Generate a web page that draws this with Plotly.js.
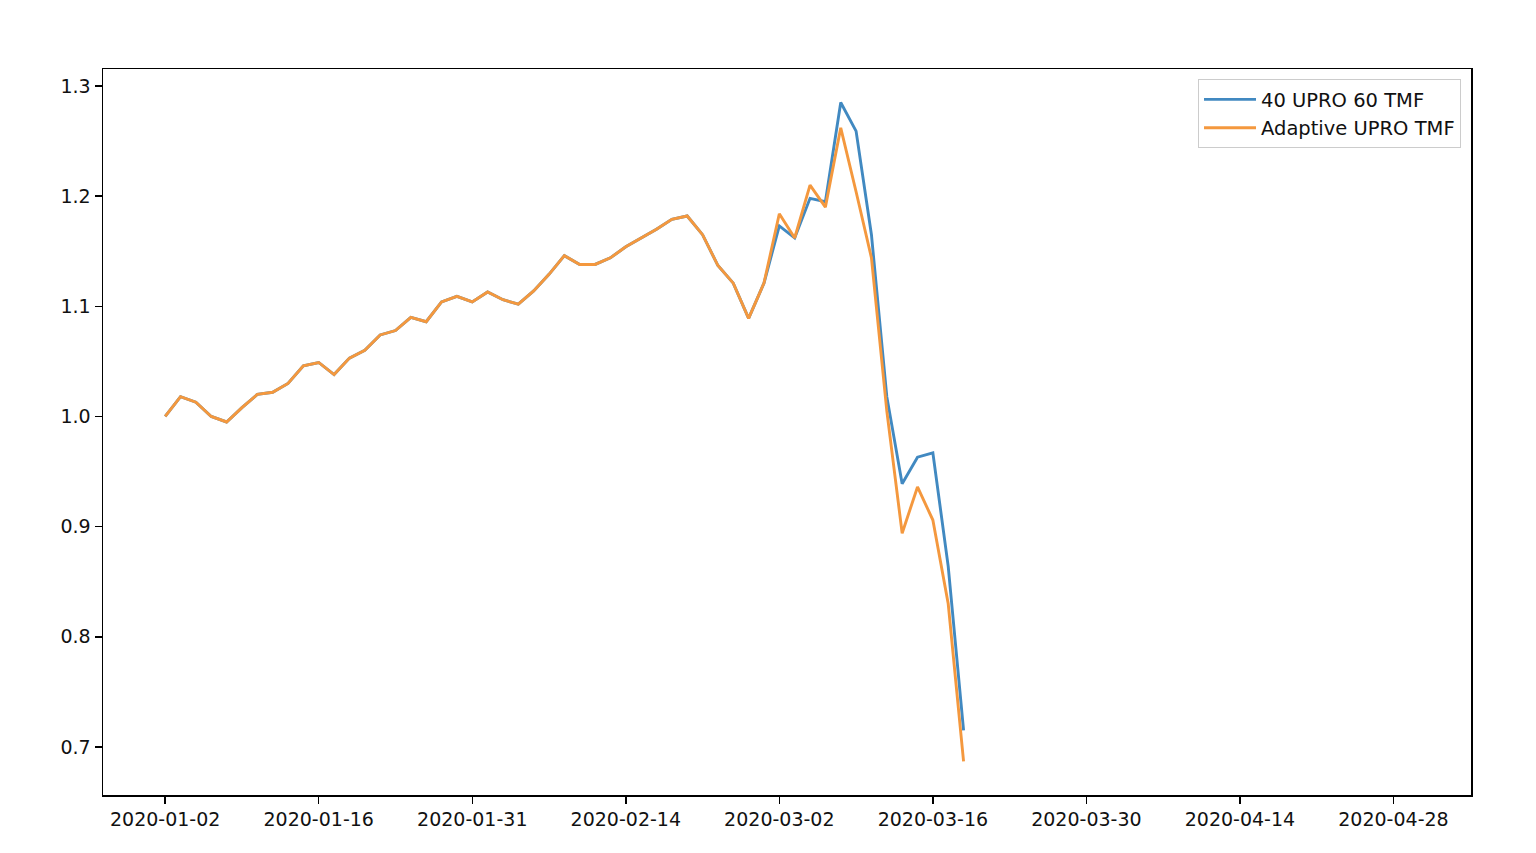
<!DOCTYPE html>
<html>
<head>
<meta charset="utf-8">
<script src="https://cdn.plot.ly/plotly-3.0.1.min.js"></script>
<style>
  html, body { margin: 0; padding: 0; background: #fff; }
  #chart { width: 1536px; height: 853px; }
</style>
</head>
<body>
<div id="chart"></div>
<script>
// trading days, 2020-01-02 .. 2020-04-29
var tradingDates = [
  '2020-01-02', '2020-01-03', '2020-01-06', '2020-01-07', '2020-01-08', '2020-01-09', '2020-01-10',
  '2020-01-13', '2020-01-14', '2020-01-15', '2020-01-16', '2020-01-17', '2020-01-21', '2020-01-22',
  '2020-01-23', '2020-01-24', '2020-01-27', '2020-01-28', '2020-01-29', '2020-01-30', '2020-01-31',
  '2020-02-03', '2020-02-04', '2020-02-05', '2020-02-06', '2020-02-07', '2020-02-10', '2020-02-11',
  '2020-02-12', '2020-02-13', '2020-02-14', '2020-02-18', '2020-02-19', '2020-02-20', '2020-02-21',
  '2020-02-24', '2020-02-25', '2020-02-26', '2020-02-27', '2020-02-28', '2020-03-02', '2020-03-03',
  '2020-03-04', '2020-03-05', '2020-03-06', '2020-03-09', '2020-03-10', '2020-03-11', '2020-03-12',
  '2020-03-13', '2020-03-16', '2020-03-17', '2020-03-18', '2020-03-19', '2020-03-20', '2020-03-23',
  '2020-03-24', '2020-03-25', '2020-03-26', '2020-03-27', '2020-03-30', '2020-03-31', '2020-04-01',
  '2020-04-02', '2020-04-03', '2020-04-06', '2020-04-07', '2020-04-08', '2020-04-09', '2020-04-13',
  '2020-04-14', '2020-04-15', '2020-04-16', '2020-04-17', '2020-04-20', '2020-04-21', '2020-04-22',
  '2020-04-23', '2020-04-24', '2020-04-27', '2020-04-28', '2020-04-29'
];

var fixedMix = [
  1.000, 1.018, 1.013, 1.000, 0.995, 1.008, 1.020, 1.022, 1.030, 1.046,
  1.049, 1.038, 1.053, 1.060, 1.074, 1.078, 1.090, 1.086, 1.104, 1.109,
  1.104, 1.113, 1.106, 1.102, 1.114, 1.129, 1.146, 1.138, 1.138, 1.144,
  1.154, 1.162, 1.170, 1.179, 1.182, 1.165, 1.137, 1.121, 1.089, 1.121,
  1.173, 1.162, 1.198, 1.195, 1.285, 1.259, 1.165, 1.018, 0.939, 0.963,
  0.967, 0.864, 0.715
];

var adaptiveMix = [
  1.000, 1.018, 1.013, 1.000, 0.995, 1.008, 1.020, 1.022, 1.030, 1.046,
  1.049, 1.038, 1.053, 1.060, 1.074, 1.078, 1.090, 1.086, 1.104, 1.109,
  1.104, 1.113, 1.106, 1.102, 1.114, 1.129, 1.146, 1.138, 1.138, 1.144,
  1.154, 1.162, 1.170, 1.179, 1.182, 1.165, 1.137, 1.121, 1.089, 1.121,
  1.184, 1.162, 1.210, 1.190, 1.262, 1.204, 1.144, 1.005, 0.894, 0.936,
  0.906, 0.830, 0.687
];

var seriesNames = ['40 UPRO 60 TMF', 'Adaptive UPRO TMF'];
var tickStep = 10;

var fontFamily = 'DejaVu Sans, Verdana, sans-serif';

function index_range(n) {
  var out = [];
  for (var i = 0; i < n; i++) {
    out.push(i);
  }
  return out;
}

var tickVals = [];
var tickText = [];
for (var i = 0; i < tradingDates.length; i += tickStep) {
  tickVals.push(i);
  tickText.push(tradingDates[i]);
}

var traces = [
  {
    x: index_range(fixedMix.length),
    y: fixedMix,
    text: tradingDates.slice(0, fixedMix.length),
    type: 'scatter',
    mode: 'lines',
    name: seriesNames[0],
    line: { color: '#4189c1', width: 2.9 }
  },
  {
    x: index_range(adaptiveMix.length),
    y: adaptiveMix,
    text: tradingDates.slice(0, adaptiveMix.length),
    type: 'scatter',
    mode: 'lines',
    name: seriesNames[1],
    line: { color: '#f4983e', width: 2.9 }
  }
];

var axisStyle = {
  showline: true,
  mirror: true,
  linecolor: '#000',
  linewidth: 1.5,
  ticks: 'outside',
  ticklen: 7,
  tickwidth: 1.5,
  tickcolor: '#000',
  showgrid: false,
  zeroline: false,
  tickfont: { family: fontFamily, size: 19, color: '#111' }
};

var layout = {
  width: 1536,
  height: 853,
  margin: { l: 103, r: 65, t: 69, b: 58, pad: 0 },
  paper_bgcolor: '#fff',
  plot_bgcolor: '#fff',
  font: { family: fontFamily, size: 19, color: '#111' },
  showlegend: true,
  xaxis: Object.assign({}, axisStyle, {
    range: [-4.05, 85.05],
    tickmode: 'array',
    tickvals: tickVals,
    ticktext: tickText
  }),
  yaxis: Object.assign({}, axisStyle, {
    range: [0.6564, 1.3154],
    tickmode: 'array',
    tickvals: [0.7, 0.8, 0.9, 1.0, 1.1, 1.2, 1.3],
    tickformat: '.1f'
  }),
  legend: {
    x: 0.9927,
    y: 0.986,
    xanchor: 'right',
    yanchor: 'top',
    bgcolor: 'rgba(255,255,255,0.8)',
    bordercolor: '#cccccc',
    borderwidth: 1,
    itemwidth: 52,
    font: { family: fontFamily, size: 19.5, color: '#111' },
    tracegroupgap: 0
  }
};

var config = { displayModeBar: false, staticPlot: true };

Plotly.newPlot('chart', traces, layout, config);
</script>
</body>
</html>
